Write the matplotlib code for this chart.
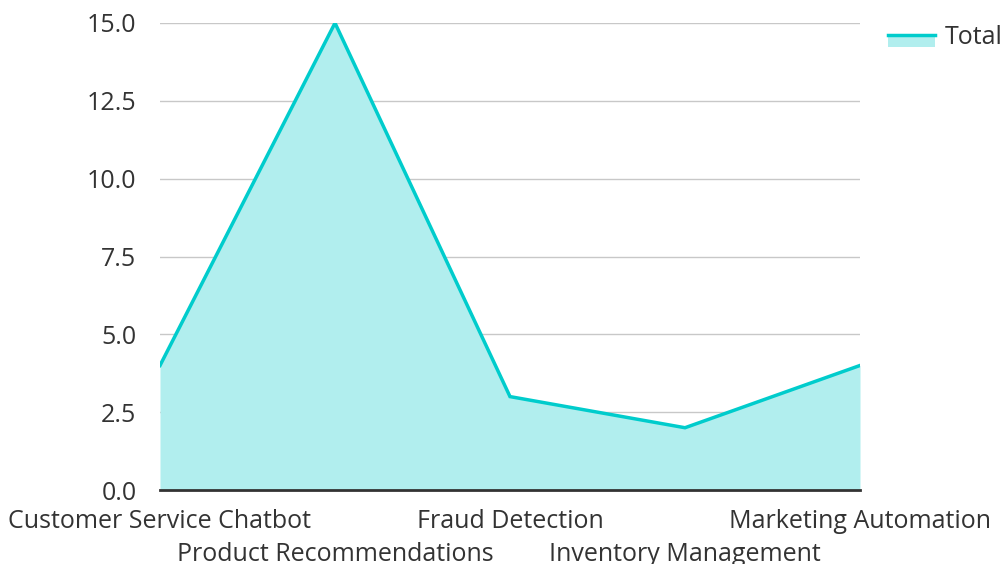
import matplotlib
matplotlib.use('Agg')
import matplotlib.pyplot as plt
from matplotlib.lines import Line2D
from matplotlib.patches import Rectangle
from matplotlib.legend_handler import HandlerBase

categories = ['Customer Service Chatbot', 'Product Recommendations', 'Fraud Detection',
              'Inventory Management', 'Marketing Automation']
totals = [4, 15, 3, 2, 4]
yticks = [0.0, 2.5, 5.0, 7.5, 10.0, 12.5, 15.0]

LINE = '#00cccc'
FILL = '#b1eeee'

plt.rcParams['font.family'] = ['Open Sans', 'DejaVu Sans']


class AreaHandler(HandlerBase):
    # filled box with the line along its top edge
    def create_artists(self, legend, orig, xd, yd, w, h, fontsize, trans):
        top = yd + h * 0.55
        r = Rectangle((xd, top - h * 0.7), w, h * 0.7, fc=FILL, ec='none', transform=trans)
        ln = Line2D([xd, xd + w], [top, top], color=LINE, lw=2.5, transform=trans)
        return [r, ln]


fig = plt.figure(figsize=(10.02, 5.64), dpi=100)
ax = fig.add_axes([160 / 1002, 1 - 490 / 564, 700 / 1002, 467 / 564])

x = list(range(len(categories)))
ax.fill_between(x, totals, 0, color=FILL, lw=0)
ax.plot(x, totals, color=LINE, lw=2.5, solid_joinstyle='miter')

ax.set_xlim(0, len(categories) - 1)
ax.set_ylim(0, 15)
ax.set_yticks(yticks)
ax.set_yticklabels([f'{v:.1f}' for v in yticks])
ax.grid(axis='y', color='#c8c8c8', lw=1)
ax.set_axisbelow(True)
ax.set_xticks(x)
ax.set_xticklabels(categories)
for i, lbl in enumerate(ax.get_xticklabels()):
    if i % 2 == 1:
        lbl.set_y(-0.07)
ax.tick_params(axis='x', length=0, pad=14, labelsize=18, colors='#333333')
ax.tick_params(axis='y', length=0, pad=17, labelsize=18, colors='#333333')
for side in ['top', 'right', 'left']:
    ax.spines[side].set_visible(False)
ax.spines['bottom'].set_color('#333333')
ax.spines['bottom'].set_linewidth(2)

fig.legend([object()], ['Total'], handler_map={object: AreaHandler()},
           loc='upper left', bbox_to_anchor=(865 / 1002, 1 - 3 / 564),
           frameon=False, fontsize=18, handlelength=1.9, handletextpad=0.4,
           labelcolor='#333333')

fig.savefig('out.png', dpi=100)
